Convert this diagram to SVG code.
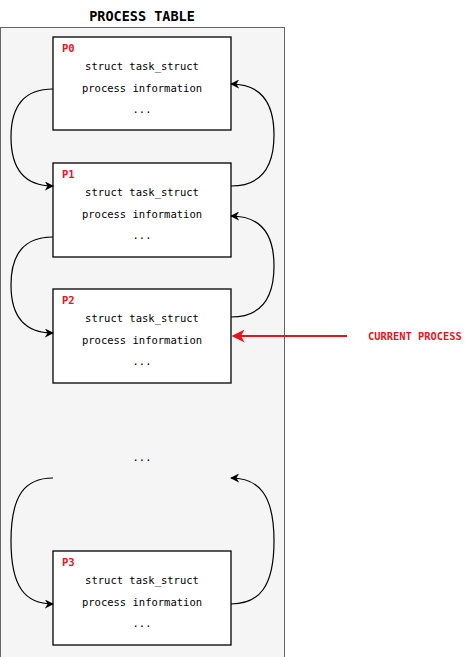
<svg xmlns="http://www.w3.org/2000/svg" width="474" height="657" viewBox="0 0 474 657">
<defs>
<style>
.box{fill:#fff;stroke:#000;stroke-width:1.3}
.t{font-family:"DejaVu Sans Mono",monospace;font-size:10.5px;fill:#000;text-anchor:middle}
.lbl{font-family:"DejaVu Sans Mono",monospace;font-size:10.5px;font-weight:bold;fill:#e8141b}
.title{font-family:"DejaVu Sans Mono",monospace;font-size:13.5px;font-weight:bold;fill:#000;text-anchor:middle}
.c{fill:none;stroke:#000;stroke-width:1.2;marker-end:url(#ah)}
</style>
<marker id="ah" viewBox="0 0 10 10" refX="9" refY="5" markerWidth="9" markerHeight="9" markerUnits="userSpaceOnUse" orient="auto">
<path d="M0,0 L10,5 L0,10 L3,5 Z" fill="#000"/>
</marker>
<marker id="ahr" viewBox="0 0 10 10" refX="9" refY="5" markerWidth="13" markerHeight="13" markerUnits="userSpaceOnUse" orient="auto">
<path d="M0,0 L10,5 L0,10 L3,5 Z" fill="#e8141b"/>
</marker>
</defs>
<rect x="0.5" y="27.5" width="284" height="632" fill="#f5f5f5" stroke="#666" stroke-width="1"/>
<text class="title" x="142" y="21">PROCESS TABLE</text>
<g id="p0">
<rect class="box" x="53" y="37" width="178" height="93"/>
<text class="lbl" x="62" y="52">P0</text>
<text class="t" x="142" y="70">struct task_struct</text>
<text class="t" x="142" y="92">process information</text>
<text class="t" x="142" y="113">...</text>
</g>
<g id="p1">
<rect class="box" x="53" y="163" width="178" height="94"/>
<text class="lbl" x="62" y="178">P1</text>
<text class="t" x="142" y="196">struct task_struct</text>
<text class="t" x="142" y="218">process information</text>
<text class="t" x="142" y="239">...</text>
</g>
<g id="p2">
<rect class="box" x="53" y="289" width="178" height="94"/>
<text class="lbl" x="62" y="304">P2</text>
<text class="t" x="142" y="322">struct task_struct</text>
<text class="t" x="142" y="344">process information</text>
<text class="t" x="142" y="365">...</text>
</g>
<g id="dots">
<text class="t" x="142" y="461">...</text>
</g>
<g id="p3">
<rect class="box" x="53" y="551" width="178" height="94"/>
<text class="lbl" x="62" y="566">P3</text>
<text class="t" x="142" y="584">struct task_struct</text>
<text class="t" x="142" y="606">process information</text>
<text class="t" x="142" y="627">...</text>
</g>
<g id="current">
<text class="lbl" x="368" y="340" style="font-size:10.4px">CURRENT PROCESS</text>
</g>
<g id="connectors">
<path class="c" d="M53,89 C25,89 11,105 11,137 C11,170 25,186 53,186"/>
<path class="c" d="M231,186 C259,186 274,170 274,135 C274,100 259,84 231,84"/>
<path class="c" d="M53,237 C25,237 11,253 11,285 C11,317 25,333 53,333"/>
<path class="c" d="M231,317 C259,317 274,301 274,266 C274,232 259,216 231,216"/>
<path class="c" d="M53,478 C25,478 11,495 11,541 C11,587 25,604 53,604"/>
<path class="c" d="M231,604 C259,604 274,587 274,541 C274,495 259,478 231,478"/>
<path d="M347,336 L233,336" fill="none" stroke="#e8141b" stroke-width="2" marker-end="url(#ahr)"/>
</g>
</svg>
